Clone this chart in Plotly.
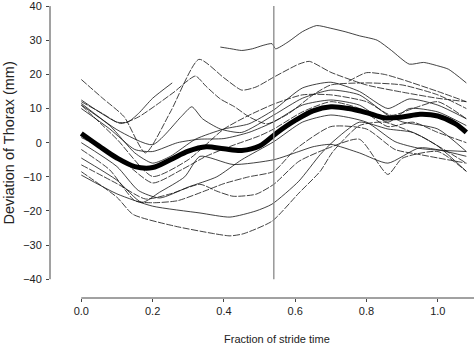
import plotly.graph_objects as go

# Individual thorax deviation curves (fraction of stride, deviation in mm)
curves = {
    "a": ([0.39, 0.42, 0.45, 0.48, 0.51, 0.535, 0.545, 0.58, 0.62, 0.66, 0.70, 0.74, 0.78, 0.83, 0.87, 0.92, 0.96, 1.00, 1.03, 1.08],
          [28, 27.5, 27, 27.5, 28.5, 29, 27.5, 29.5, 32.5, 34.3, 33.5, 32.5, 31.3, 30, 27, 23, 23.5, 22.5, 21.5, 17.5]),
    "b": ([0, 0.06, 0.12, 0.18, 0.25, 0.33, 0.40, 0.45, 0.49, 0.54, 0.61, 0.64, 0.70, 0.80, 0.90, 1.00, 1.08],
          [18.5, 13, 7.6, -3, 9, 24.4, 19, 15.4, 16.3, 19.2, 23, 23.8, 20.6, 16.9, 14.8, 13, 12]),
    "c": ([0, 0.05, 0.10, 0.13, 0.16, 0.20, 0.255],
          [12.5, 9, 6, 6, 8.5, 13, 17.5]),
    "d": ([0, 0.06, 0.11, 0.16, 0.21, 0.26, 0.32, 0.35, 0.39, 0.43, 0.47, 0.52, 0.58, 0.65, 0.70, 0.80, 0.90, 1.00, 1.08],
          [12, 8.5, 5.6, 7.5, 11, 14.8, 19.5, 16.5, 12.8, 10.5, 7.6, 5.5, 8.4, 14, 16.9, 17.5, 16.9, 14, 10]),
    "e": ([0, 0.10, 0.20, 0.28, 0.31, 0.34, 0.39, 0.45, 0.54, 0.62, 0.70, 0.78, 0.86, 0.90, 1.00, 1.08],
          [11.5, 3.8, -0.6, 7.6, 10.5, 7, 4, 3, 8.1, 13, 15.4, 14, 8, 6.1, 4, -2.6]),
    "f": ([0, 0.10, 0.20, 0.30, 0.40, 0.47, 0.54, 0.62, 0.70, 0.80, 0.87, 0.93, 1.00, 1.08],
          [11, 1, -9.9, -5, 4, 8, 11.3, 14, 14, 12, 8, 10, 12, 7]),
    "g": ([0, 0.08, 0.15, 0.20, 0.25, 0.32, 0.40, 0.47, 0.54, 0.62, 0.70, 0.78, 0.86, 0.92, 1.00, 1.08],
          [11, 5, -3, -6, -4, 1, 4, 5.5, 9.6, 16, 17.7, 15, 10, 12.8, 11, 7]),
    "h": ([0.75, 0.80, 0.85, 0.90, 1.00, 1.08],
          [18, 20.5, 20, 18.5, 15, 12]),
    "w": ([0, 0.08, 0.15, 0.20, 0.27, 0.33, 0.40, 0.47, 0.54, 0.62, 0.70, 0.78, 0.86, 0.92, 1.00, 1.08],
          [10, 4, -2, -2.6, 0, 1, 1.2, 3, 6.1, 11, 12.5, 11, 6, 10, 9, 5]),
    "v": ([0, 0.10, 0.20, 0.28, 0.35, 0.42, 0.50, 0.54, 0.62, 0.70, 0.78, 0.86, 0.93, 1.00, 1.08],
          [1.5, -4, -11.8, -8, -4, -1, 2, 4, 9, 12, 10, 4.7, 6, 3, 0]),
    "u": ([0, 0.10, 0.16, 0.22, 0.30, 0.38, 0.45, 0.54, 0.62, 0.70, 0.80, 0.88, 0.95, 1.08],
          [0, -7, -14, -16.2, -13, -10, -5, 0.3, 6, 8.1, 6, 0.3, -1.7, -2.6]),
    "t": ([0, 0.08, 0.15, 0.20, 0.27, 0.35, 0.40, 0.47, 0.54, 0.60, 0.70, 0.80, 0.88, 0.95, 1.08],
          [-2, -8, -17, -17.6, -17, -14, -12, -10, -8.4, -2, 4.7, 4, -2, -3.5, -6]),
    "s": ([0, 0.10, 0.17, 0.22, 0.29, 0.333, 0.426, 0.54, 0.61, 0.65, 0.70, 0.78, 0.86, 0.95, 1.08],
          [-4.5, -11, -17.5, -14.5, -10, -4, -6.4, -5, -2.6, -1.2, -0.5, -3, -6, -1.5, -4]),
    "r": ([0, 0.10, 0.18, 0.25, 0.333, 0.38, 0.426, 0.49, 0.54, 0.61, 0.69, 0.78, 0.86, 0.90, 1.00, 1.08],
          [-6.5, -12, -16.5, -15, -12.2, -14.2, -15.7, -15.1, -12.2, -5.5, -1.7, 1, -9.3, -4.6, -2.6, -8.4]),
    "q": ([0, 0.10, 0.20, 0.333, 0.417, 0.49, 0.535, 0.61, 0.67, 0.706, 0.78, 0.86, 0.93, 1.00, 1.08],
          [-9.5, -15, -18.6, -20.6, -21.8, -20, -18, -11.3, -3.5, 0.3, 6, 4, 3, -1, -8.4]),
    "p": ([0, 0.10, 0.145, 0.26, 0.375, 0.417, 0.454, 0.535, 0.61, 0.67, 0.706, 0.78, 0.85, 0.95, 1.08],
          [-8.5, -16, -21, -24.4, -26.7, -27.3, -26.7, -23, -14.8, -8.4, -2.6, 5, 6, 2, -6]),
}

# Mean curve
mean_x = [0.00, 0.05, 0.10, 0.15, 0.20, 0.25, 0.30, 0.35, 0.40, 0.45, 0.50, 0.55,
          0.60, 0.65, 0.70, 0.75, 0.80, 0.85, 0.90, 0.95, 1.00, 1.05, 1.08]
mean_y = [2.7, -1, -4.5, -7, -7.3, -5, -2.5, -1.2, -1.8, -2.3, -1, 3,
          6.5, 9.3, 10.5, 10, 8.8, 7.3, 7.5, 8.3, 7.8, 5.5, 3]

heel_strike = 0.54
x_ticks = [0.0, 0.2, 0.4, 0.6, 0.8, 1.0]
y_ticks = [-40, -30, -20, -10, 0, 10, 20, 30, 40]

fig = go.Figure()
for i, (name, (xs, ys)) in enumerate(curves.items()):
    fig.add_trace(go.Scatter(
        x=xs, y=ys, mode="lines", name=name, showlegend=False,
        line=dict(color="#111", width=0.8, shape="spline", smoothing=0.6,
                  dash="solid" if i % 2 == 0 else "7px,1.5px"),
        hoverinfo="skip"))

fig.add_trace(go.Scatter(x=mean_x, y=mean_y, mode="lines", showlegend=False,
                         line=dict(color="black", width=5, shape="spline", smoothing=0.9)))

font = dict(family="Liberation Sans, Arial, sans-serif", size=11, color="#222")

fig.update_layout(
    width=474, height=345,
    margin=dict(l=50, r=0, t=0, b=47),
    plot_bgcolor="white", paper_bgcolor="white",
    font=font,
    xaxis=dict(range=[-0.0878, 1.1015], tickvals=x_ticks, ticktext=[f"{v:.1f}" for v in x_ticks],
               ticks="outside", ticklen=3, tickcolor="#444", showgrid=False, zeroline=False,
               showline=False, tickfont=font),
    yaxis=dict(range=[-45.5, 41.2], tickvals=y_ticks, ticks="outside", ticklen=3,
               tickcolor="#444", showgrid=False, zeroline=False, showline=False, tickfont=font,
               ticklabeloverflow="allow", ticklabelstandoff=2),
    shapes=[
        dict(type="line", xref="paper", yref="y", x0=0, x1=0, y0=-40, y1=40,
             line=dict(color="#444", width=1)),
        dict(type="line", xref="x", yref="paper", x0=0, x1=1.1015, y0=0, y1=0,
             line=dict(color="#444", width=1)),
        dict(type="line", xref="x", yref="y", x0=heel_strike, x1=heel_strike, y0=-40, y1=40,
             line=dict(color="#888", width=1.3)),
    ],
    annotations=[
        dict(text="Fraction of stride time", xref="x", yref="paper", x=0.55, y=-0.14,
             showarrow=False, font=font, yanchor="middle"),
        dict(text="Deviation of Thorax (mm)", xref="paper", yref="y", x=-0.097, y=0,
             textangle=-90, showarrow=False, font=dict(font, size=14.5), xanchor="center"),
    ],
)

fig.write_html("out.html")
